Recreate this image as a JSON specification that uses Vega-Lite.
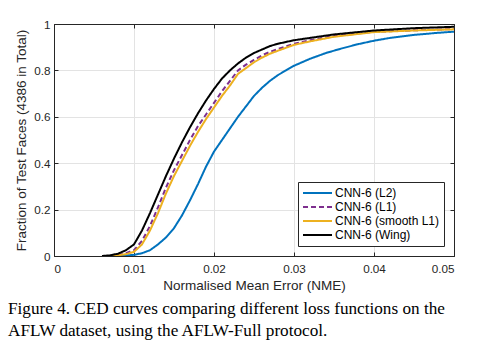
{
  "$schema": "https://vega.github.io/schema/vega-lite/v6.json",
  "width": 400,
  "height": 232,
  "autosize": "none",
  "padding": {"left": 54, "top": 24, "right": 47, "bottom": 96},
  "background": "white",
  "config": {
    "view": {"stroke": "#262626", "strokeWidth": 1},
    "font": "Liberation Sans",
    "axis": {
      "labelFont": "Liberation Sans",
      "titleFont": "Liberation Sans",
      "labelFontSize": 11.7,
      "titleFontSize": 13.5,
      "titleFontWeight": "normal",
      "labelColor": "#262626",
      "titleColor": "#262626",
      "domainColor": "#262626",
      "tickColor": "#262626",
      "tickSize": -4,
      "gridColor": "#e3e3e3",
      "gridWidth": 1
    }
  },
  "title": {
    "text": ["Figure 4. CED curves comparing different loss functions on the", "AFLW dataset, using the AFLW-Full protocol."],
    "orient": "bottom",
    "anchor": "start",
    "frame": "group",
    "dx": -46,
    "offset": 8,
    "font": "Liberation Serif",
    "fontSize": 17.2,
    "fontWeight": "normal",
    "color": "#000000",
    "lineHeight": 22,
    "baseline": "top"
  },
  "data": {
    "values": [
      {"loss": "CNN-6 (L2)", "nme": 0.008, "frac": 0},
      {"loss": "CNN-6 (L2)", "nme": 0.009, "frac": 0.002},
      {"loss": "CNN-6 (L2)", "nme": 0.010, "frac": 0.005},
      {"loss": "CNN-6 (L2)", "nme": 0.011, "frac": 0.012},
      {"loss": "CNN-6 (L2)", "nme": 0.012, "frac": 0.025},
      {"loss": "CNN-6 (L2)", "nme": 0.013, "frac": 0.05},
      {"loss": "CNN-6 (L2)", "nme": 0.014, "frac": 0.08},
      {"loss": "CNN-6 (L2)", "nme": 0.015, "frac": 0.12},
      {"loss": "CNN-6 (L2)", "nme": 0.016, "frac": 0.175},
      {"loss": "CNN-6 (L2)", "nme": 0.017, "frac": 0.24},
      {"loss": "CNN-6 (L2)", "nme": 0.018, "frac": 0.31},
      {"loss": "CNN-6 (L2)", "nme": 0.019, "frac": 0.385},
      {"loss": "CNN-6 (L2)", "nme": 0.020, "frac": 0.45},
      {"loss": "CNN-6 (L2)", "nme": 0.021, "frac": 0.5},
      {"loss": "CNN-6 (L2)", "nme": 0.022, "frac": 0.55},
      {"loss": "CNN-6 (L2)", "nme": 0.023, "frac": 0.6},
      {"loss": "CNN-6 (L2)", "nme": 0.024, "frac": 0.645},
      {"loss": "CNN-6 (L2)", "nme": 0.025, "frac": 0.69},
      {"loss": "CNN-6 (L2)", "nme": 0.026, "frac": 0.725},
      {"loss": "CNN-6 (L2)", "nme": 0.027, "frac": 0.755},
      {"loss": "CNN-6 (L2)", "nme": 0.028, "frac": 0.78},
      {"loss": "CNN-6 (L2)", "nme": 0.029, "frac": 0.8},
      {"loss": "CNN-6 (L2)", "nme": 0.030, "frac": 0.82},
      {"loss": "CNN-6 (L2)", "nme": 0.032, "frac": 0.85},
      {"loss": "CNN-6 (L2)", "nme": 0.034, "frac": 0.875},
      {"loss": "CNN-6 (L2)", "nme": 0.036, "frac": 0.895},
      {"loss": "CNN-6 (L2)", "nme": 0.038, "frac": 0.913},
      {"loss": "CNN-6 (L2)", "nme": 0.040, "frac": 0.928},
      {"loss": "CNN-6 (L2)", "nme": 0.042, "frac": 0.94},
      {"loss": "CNN-6 (L2)", "nme": 0.045, "frac": 0.953},
      {"loss": "CNN-6 (L2)", "nme": 0.048, "frac": 0.962},
      {"loss": "CNN-6 (L2)", "nme": 0.050, "frac": 0.967},

      {"loss": "CNN-6 (L1)", "nme": 0.007, "frac": 0},
      {"loss": "CNN-6 (L1)", "nme": 0.008, "frac": 0.004},
      {"loss": "CNN-6 (L1)", "nme": 0.009, "frac": 0.012},
      {"loss": "CNN-6 (L1)", "nme": 0.010, "frac": 0.025},
      {"loss": "CNN-6 (L1)", "nme": 0.011, "frac": 0.065},
      {"loss": "CNN-6 (L1)", "nme": 0.012, "frac": 0.13},
      {"loss": "CNN-6 (L1)", "nme": 0.013, "frac": 0.21},
      {"loss": "CNN-6 (L1)", "nme": 0.014, "frac": 0.295},
      {"loss": "CNN-6 (L1)", "nme": 0.015, "frac": 0.37},
      {"loss": "CNN-6 (L1)", "nme": 0.016, "frac": 0.435},
      {"loss": "CNN-6 (L1)", "nme": 0.017, "frac": 0.5},
      {"loss": "CNN-6 (L1)", "nme": 0.018, "frac": 0.56},
      {"loss": "CNN-6 (L1)", "nme": 0.019, "frac": 0.61},
      {"loss": "CNN-6 (L1)", "nme": 0.020, "frac": 0.66},
      {"loss": "CNN-6 (L1)", "nme": 0.021, "frac": 0.71},
      {"loss": "CNN-6 (L1)", "nme": 0.022, "frac": 0.755},
      {"loss": "CNN-6 (L1)", "nme": 0.023, "frac": 0.8},
      {"loss": "CNN-6 (L1)", "nme": 0.024, "frac": 0.825},
      {"loss": "CNN-6 (L1)", "nme": 0.025, "frac": 0.845},
      {"loss": "CNN-6 (L1)", "nme": 0.026, "frac": 0.865},
      {"loss": "CNN-6 (L1)", "nme": 0.027, "frac": 0.88},
      {"loss": "CNN-6 (L1)", "nme": 0.028, "frac": 0.892},
      {"loss": "CNN-6 (L1)", "nme": 0.030, "frac": 0.915},
      {"loss": "CNN-6 (L1)", "nme": 0.032, "frac": 0.93},
      {"loss": "CNN-6 (L1)", "nme": 0.035, "frac": 0.948},
      {"loss": "CNN-6 (L1)", "nme": 0.040, "frac": 0.966},
      {"loss": "CNN-6 (L1)", "nme": 0.045, "frac": 0.973},
      {"loss": "CNN-6 (L1)", "nme": 0.050, "frac": 0.978},

      {"loss": "CNN-6 (smooth L1)", "nme": 0.007, "frac": 0},
      {"loss": "CNN-6 (smooth L1)", "nme": 0.008, "frac": 0.003},
      {"loss": "CNN-6 (smooth L1)", "nme": 0.009, "frac": 0.008},
      {"loss": "CNN-6 (smooth L1)", "nme": 0.010, "frac": 0.018},
      {"loss": "CNN-6 (smooth L1)", "nme": 0.011, "frac": 0.05},
      {"loss": "CNN-6 (smooth L1)", "nme": 0.012, "frac": 0.11},
      {"loss": "CNN-6 (smooth L1)", "nme": 0.013, "frac": 0.185},
      {"loss": "CNN-6 (smooth L1)", "nme": 0.014, "frac": 0.27},
      {"loss": "CNN-6 (smooth L1)", "nme": 0.015, "frac": 0.345},
      {"loss": "CNN-6 (smooth L1)", "nme": 0.016, "frac": 0.41},
      {"loss": "CNN-6 (smooth L1)", "nme": 0.017, "frac": 0.475},
      {"loss": "CNN-6 (smooth L1)", "nme": 0.018, "frac": 0.535},
      {"loss": "CNN-6 (smooth L1)", "nme": 0.019, "frac": 0.59},
      {"loss": "CNN-6 (smooth L1)", "nme": 0.020, "frac": 0.64},
      {"loss": "CNN-6 (smooth L1)", "nme": 0.021, "frac": 0.69},
      {"loss": "CNN-6 (smooth L1)", "nme": 0.022, "frac": 0.735},
      {"loss": "CNN-6 (smooth L1)", "nme": 0.023, "frac": 0.785},
      {"loss": "CNN-6 (smooth L1)", "nme": 0.024, "frac": 0.81},
      {"loss": "CNN-6 (smooth L1)", "nme": 0.025, "frac": 0.835},
      {"loss": "CNN-6 (smooth L1)", "nme": 0.026, "frac": 0.855},
      {"loss": "CNN-6 (smooth L1)", "nme": 0.027, "frac": 0.872},
      {"loss": "CNN-6 (smooth L1)", "nme": 0.028, "frac": 0.885},
      {"loss": "CNN-6 (smooth L1)", "nme": 0.030, "frac": 0.91},
      {"loss": "CNN-6 (smooth L1)", "nme": 0.032, "frac": 0.925},
      {"loss": "CNN-6 (smooth L1)", "nme": 0.035, "frac": 0.945},
      {"loss": "CNN-6 (smooth L1)", "nme": 0.040, "frac": 0.965},
      {"loss": "CNN-6 (smooth L1)", "nme": 0.045, "frac": 0.972},
      {"loss": "CNN-6 (smooth L1)", "nme": 0.050, "frac": 0.977},

      {"loss": "CNN-6 (Wing)", "nme": 0.006, "frac": 0},
      {"loss": "CNN-6 (Wing)", "nme": 0.007, "frac": 0.003},
      {"loss": "CNN-6 (Wing)", "nme": 0.008, "frac": 0.01},
      {"loss": "CNN-6 (Wing)", "nme": 0.009, "frac": 0.025},
      {"loss": "CNN-6 (Wing)", "nme": 0.010, "frac": 0.05},
      {"loss": "CNN-6 (Wing)", "nme": 0.011, "frac": 0.11},
      {"loss": "CNN-6 (Wing)", "nme": 0.012, "frac": 0.185},
      {"loss": "CNN-6 (Wing)", "nme": 0.013, "frac": 0.265},
      {"loss": "CNN-6 (Wing)", "nme": 0.014, "frac": 0.345},
      {"loss": "CNN-6 (Wing)", "nme": 0.015, "frac": 0.42},
      {"loss": "CNN-6 (Wing)", "nme": 0.016, "frac": 0.49},
      {"loss": "CNN-6 (Wing)", "nme": 0.017, "frac": 0.555},
      {"loss": "CNN-6 (Wing)", "nme": 0.018, "frac": 0.615},
      {"loss": "CNN-6 (Wing)", "nme": 0.019, "frac": 0.67},
      {"loss": "CNN-6 (Wing)", "nme": 0.020, "frac": 0.72},
      {"loss": "CNN-6 (Wing)", "nme": 0.021, "frac": 0.765},
      {"loss": "CNN-6 (Wing)", "nme": 0.022, "frac": 0.8},
      {"loss": "CNN-6 (Wing)", "nme": 0.023, "frac": 0.83},
      {"loss": "CNN-6 (Wing)", "nme": 0.024, "frac": 0.855},
      {"loss": "CNN-6 (Wing)", "nme": 0.025, "frac": 0.875},
      {"loss": "CNN-6 (Wing)", "nme": 0.026, "frac": 0.89},
      {"loss": "CNN-6 (Wing)", "nme": 0.027, "frac": 0.905},
      {"loss": "CNN-6 (Wing)", "nme": 0.028, "frac": 0.915},
      {"loss": "CNN-6 (Wing)", "nme": 0.030, "frac": 0.93},
      {"loss": "CNN-6 (Wing)", "nme": 0.032, "frac": 0.94},
      {"loss": "CNN-6 (Wing)", "nme": 0.035, "frac": 0.955},
      {"loss": "CNN-6 (Wing)", "nme": 0.040, "frac": 0.972},
      {"loss": "CNN-6 (Wing)", "nme": 0.045, "frac": 0.982},
      {"loss": "CNN-6 (Wing)", "nme": 0.050, "frac": 0.988}
    ]
  },
  "resolve": {"axis": {"x": "independent", "y": "independent"}},
  "layer": [
    {
      "mark": {"type": "line", "strokeWidth": 2, "clip": true},
      "encoding": {
        "x": {
          "field": "nme", "type": "quantitative",
          "scale": {"domain": [0, 0.05], "nice": false},
          "axis": {"orient": "bottom", "values": [0, 0.01, 0.02, 0.03, 0.04, 0.05], "format": "~g", "title": "Normalised Mean Error (NME)", "labelPadding": 11.5, "titlePadding": 3}
        },
        "y": {
          "field": "frac", "type": "quantitative",
          "scale": {"domain": [0, 1], "nice": false},
          "axis": {"orient": "left", "values": [0, 0.2, 0.4, 0.6, 0.8, 1], "format": "~g", "title": "Fraction of Test Faces (4386 in Total)", "labelPadding": 8, "titlePadding": 5}
        },
        "color": {
          "field": "loss", "type": "nominal",
          "scale": {
            "domain": ["CNN-6 (L2)", "CNN-6 (L1)", "CNN-6 (smooth L1)", "CNN-6 (Wing)"],
            "range": ["#0072BD", "#7E2F8E", "#EDB120", "#000000"]
          },
          "legend": {
            "title": null,
            "orient": "bottom-right",
            "offset": 10,
            "fillColor": "white",
            "strokeColor": "#262626",
            "padding": 4,
            "symbolType": "stroke",
            "symbolSize": 841,
            "symbolStrokeWidth": 2,
            "labelFont": "Liberation Sans",
            "labelFontSize": 12,
            "labelColor": "#000000",
            "labelOffset": 2,
            "clipHeight": 14,
            "rowPadding": 0,
            "cornerRadius": 0
          }
        },
        "strokeDash": {
          "field": "loss", "type": "nominal",
          "scale": {
            "domain": ["CNN-6 (L2)", "CNN-6 (L1)", "CNN-6 (smooth L1)", "CNN-6 (Wing)"],
            "range": [[1, 0], [5, 3], [1, 0], [1, 0]]
          },
          "legend": null
        },
        "order": {"field": "nme", "type": "quantitative"}
      }
    },
    {
      "mark": {"type": "line", "opacity": 0},
      "encoding": {
        "x": {
          "field": "nme", "type": "quantitative",
          "axis": {"orient": "top", "values": [0, 0.01, 0.02, 0.03, 0.04, 0.05], "labels": false, "title": null, "grid": false}
        },
        "y": {
          "field": "frac", "type": "quantitative",
          "axis": {"orient": "right", "values": [0, 0.2, 0.4, 0.6, 0.8, 1], "labels": false, "title": null, "grid": false}
        },
        "detail": {"field": "loss", "type": "nominal"}
      }
    }
  ]
}
